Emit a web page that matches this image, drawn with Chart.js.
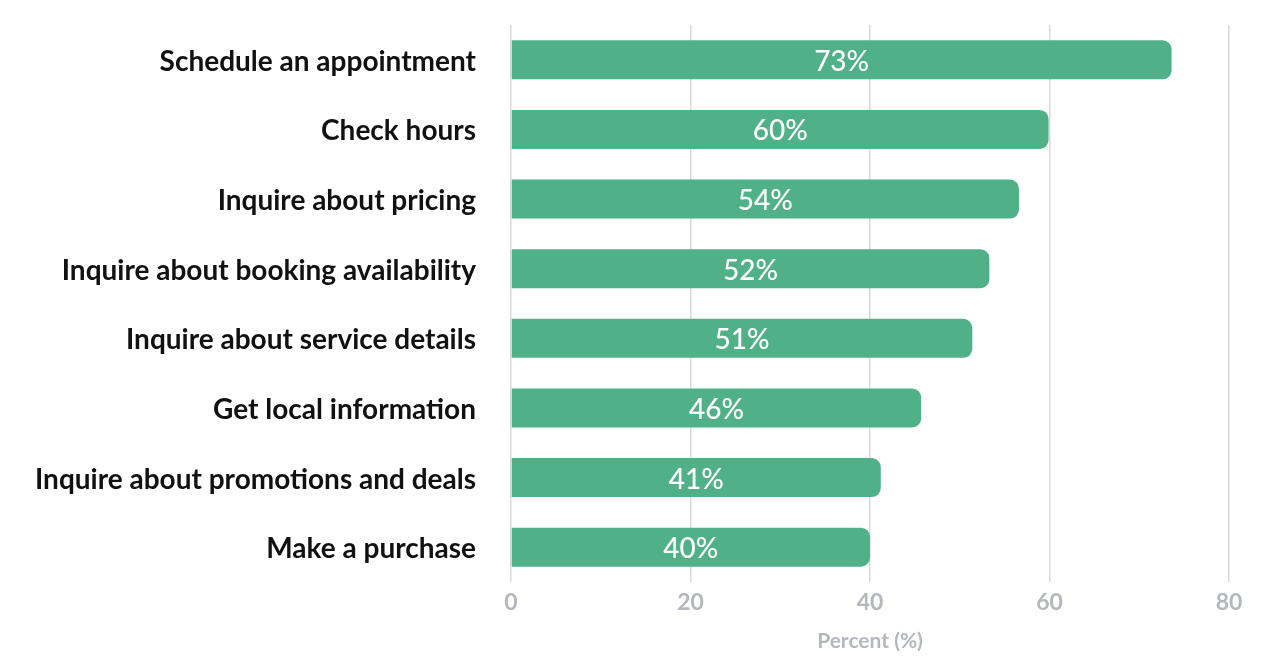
<!DOCTYPE html>
<html>
<head>
<meta charset="utf-8">
<script src="https://cdn.jsdelivr.net/npm/chart.js@4/dist/chart.umd.min.js"></script>
<style>
  html, body { margin: 0; padding: 0; background: #ffffff; }
  #wrap { width: 1266px; height: 664px; position: relative; }
</style>
</head>
<body>
<div id="wrap"><canvas id="c"></canvas></div>
<script>
const categories = [
  "Schedule an appointment",
  "Check hours",
  "Inquire about pricing",
  "Inquire about booking availability",
  "Inquire about service details",
  "Get local information",
  "Inquire about promotions and deals",
  "Make a purchase"
];
// bar lengths as drawn in the picture
const barValues = [73.6, 59.9, 56.6, 53.3, 51.4, 45.7, 41.2, 40.0];
// value labels printed on the bars
const valueLabels = ["73%", "60%", "54%", "52%", "51%", "46%", "41%", "40%"];
const xTicks = [0, 20, 40, 60, 80];

const barLabelPlugin = {
  id: 'barLabels',
  afterDatasetsDraw(chart) {
    const ctx = chart.ctx;
    const meta = chart.getDatasetMeta(0);
    ctx.save();
    ctx.fillStyle = '#ffffff';
    ctx.font = '500 28px Lato';
    ctx.textAlign = 'center';
    ctx.textBaseline = 'middle';
    meta.data.forEach((bar, i) => {
      const p = bar.getProps(['x', 'y', 'base'], true);
      ctx.fillText(valueLabels[i], (p.x + p.base) / 2, p.y + 2);
    });
    ctx.restore();
  }
};

new Chart(document.getElementById('c'), {
  type: 'bar',
  data: {
    labels: categories,
    datasets: [{
      data: barValues,
      backgroundColor: '#50b189',
      borderRadius: 9,
      borderSkipped: 'start',
      barPercentage: 0.56,
      categoryPercentage: 1.0
    }]
  },
  options: {
    indexAxis: 'y',
    responsive: true,
    maintainAspectRatio: false,
    animation: false,
    layout: { padding: { left: 0, right: 37, top: 25, bottom: 0 } },
    plugins: { legend: { display: false }, tooltip: { enabled: false } },
    scales: {
      x: {
        min: 0, max: 80,
        afterBuildTicks(scale) { scale.ticks = xTicks.map(v => ({ value: v })); },
        afterFit(scale) { scale.height = 82; scale.paddingLeft = 0; scale.paddingRight = 0; },
        grid: { color: '#d9d9d9', lineWidth: 1.5, drawTicks: false },
        border: { display: false },
        ticks: {
          padding: 7,
          color: '#b4b7bc',
          font: { family: 'Lato', size: 23, weight: 'bold' }
        },
        title: {
          display: true,
          text: 'Percent (%)',
          color: '#b4b7bc',
          padding: { top: 12, bottom: 10 },
          font: { family: 'Lato', size: 21, weight: 'bold' }
        }
      },
      y: {
        afterFit(scale) { scale.width = 511; scale.paddingTop = 0; scale.paddingBottom = 0; },
        grid: { display: false, drawTicks: false },
        border: { display: false },
        ticks: {
          padding: 35,
          labelOffset: 2,
          color: '#111111',
          font: { family: 'Lato', size: 28, weight: 'bold' }
        }
      }
    }
  },
  plugins: [barLabelPlugin]
});
</script>
</body>
</html>
